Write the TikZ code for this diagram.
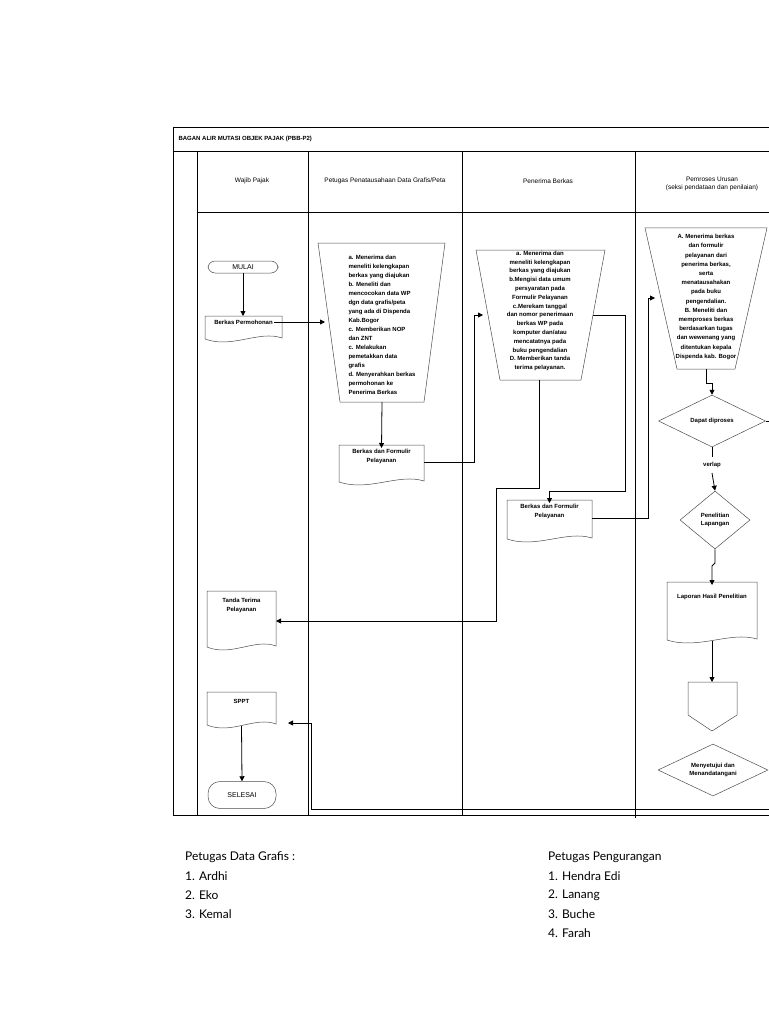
\documentclass[tikz,border=0pt]{standalone}
\usepackage{fontspec}
\setmainfont{Liberation Sans}
\newfontfamily\foot{Lato}
\usetikzlibrary{arrows.meta,calc,shapes.geometric}
\begin{document}
\begin{tikzpicture}[x=1pt,y=-1pt,
  frame/.style={line width=0.8pt},
  shp/.style={draw=black!70, line width=0.5pt},
  txt/.style={font=\fontsize{6}{8.9}\selectfont\bfseries, align=center, inner sep=1pt},
  hdr/.style={font=\fontsize{6.5}{8}\selectfont, align=center},
  arr/.style={line width=0.8pt, -{Triangle[length=5pt,width=5pt]}},
  ln/.style={line width=0.8pt},
  term/.style={shp, rounded corners=7pt, txt, font=\fontsize{7}{8}\selectfont},
  ft/.style={font=\foot\fontsize{12}{14}\selectfont, anchor=west, inner sep=0pt}]
\useasboundingbox (0,0) rectangle (768,1024);
% frame
\draw[frame] (173,127) -- (770,127);
\draw[frame] (173,151) -- (770,151);
\draw[frame] (197,212) -- (770,212);
\draw[frame] (173,815) -- (770,815);
\draw[frame] (173,127) -- (173,815);
\draw[frame] (197,151) -- (197,815);
\draw[frame] (308,151) -- (308,815);
\draw[frame] (462,151) -- (462,815);
\draw[frame] (635,151) -- (635,818);
\node[hdr, anchor=west, font=\fontsize{6}{7}\selectfont\bfseries] (title) at (175,139) {BAGAN ALIR MUTASI OBJEK PAJAK (PBB-P2)};
\node[hdr] (h1) at (252,181) {Wajib Pajak};
\node[hdr] (h2) at (385,181) {Petugas Penatausahaan Data Grafis/Peta};
\node[hdr] (h3) at (548,181) {Penerima Berkas};
\node[hdr] (h4) at (712,184) {Pemroses Urusan\\(seksi pendataan dan penilaian)};
% terminators
\node[term, minimum width=70pt, minimum height=12pt] (mulai) at (243,267) {MULAI};
\node[term, rounded corners=12pt, minimum width=68pt, minimum height=27pt] (selesai) at (242,795) {SELESAI};
% document shapes
\newcommand\docshp[6]{% name, x1, y1, x2, y2, text
  \node[txt, anchor=north] (#1) at ({(#2+#4)/2},{#3+3}) {#6};
  \coordinate (#1-nw) at (#2,#3); \coordinate (#1-ne) at (#4,#3);
  \coordinate (#1-s) at ({(#2+#4)/2},{#5-3});
  \coordinate (#1-e) at (#4,{(#3+#5)/2-3});
  \draw[shp] (#2,#3) -- (#4,#3) -- (#4,{#5-5})
    .. controls ({#4-0.3*(#4-#2)},{#5-13}) and ({#2+0.35*(#4-#2)},{#5+6}) .. (#2,{#5-4}) -- cycle;}
\docshp{berkas}{205}{316}{282}{343}{Berkas Permohonan}
\docshp{doc2}{339}{445}{424}{486}{Berkas dan Formulir\\Pelayanan}
\docshp{doc3}{507}{500}{592}{543}{Berkas dan Formulir\\Pelayanan}
\docshp{tanda}{207}{591}{276}{651}{\\[-2pt]Tanda Terima\\Pelayanan}
\docshp{sppt}{207}{692}{276}{729}{\\[-2pt]SPPT}
\docshp{lap}{667}{582}{757}{644}{\\[3pt]Laporan Hasil Penelitian}
% trapezoids
\draw[shp] (318,243) -- (445,243) -- (424,402) -- (340,402) -- cycle;
\node[txt, align=left, font=\fontsize{6}{9}\selectfont\bfseries] (t1) at (382,325) {a. Menerima dan\\meneliti kelengkapan\\berkas yang diajukan\\b. Meneliti dan\\mencocokan data WP\\dgn data grafis/peta\\yang ada di Dispenda\\Kab.Bogor\\c. Memberikan NOP\\dan ZNT\\c. Melakukan\\pemetakkan data\\grafis\\d. Menyerahkan berkas\\permohonan ke\\Penerima Berkas};
\coordinate (t1-b) at (382,402);
\draw[shp] (476,250) -- (605,250) -- (581,380) -- (500,380) -- cycle;
\node[txt, font=\fontsize{6}{8.8}\selectfont\bfseries] (t2) at (540,311) {a. Menerima dan\\meneliti kelengkapan\\berkas yang diajukan\\b.Mengisi data umum\\persyaratan pada\\Formulir Pelayanan\\c.Merekam tanggal\\dan nomor penerimaan\\berkas WP pada\\komputer dan/atau\\mencatatnya pada\\buku pengendalian\\D. Memberikan tanda\\terima pelayanan.};
\coordinate (t2-b) at (539,380);
\coordinate (t2-l) at (483,315);
\coordinate (t2-r) at (593,315);
\draw[shp] (645,228) -- (767,228) -- (735,369) -- (677,369) -- cycle;
\node[txt, font=\fontsize{6}{9.2}\selectfont\bfseries] (t3) at (706,297) {A. Menerima berkas\\dan formulir\\pelayanan dari\\penerima berkas,\\serta\\menatausahakan\\pada buku\\pengendalian.\\B. Meneliti dan\\memproses berkas\\berdasarkan tugas\\dan wewenang yang\\ditentukan kepala\\Dispenda kab. Bogor};
\coordinate (t3-b) at (706,369);
\coordinate (t3-l) at (655,298);
% diamonds
\node[shp, diamond, aspect=2.05, minimum width=107pt, minimum height=52pt, inner sep=0pt] (d1) at (712,421) {};
\node[txt] at (d1) {Dapat diproses};
\node[shp, diamond, aspect=1.2, minimum width=70pt, minimum height=58pt, inner sep=0pt] (d2) at (715,520) {};
\node[txt] at (d2) {Penelitian\\Lapangan};
\node[shp, diamond, aspect=2.1, minimum width=110pt, minimum height=52pt, inner sep=0pt] (d3) at (713,770) {};
\node[txt] at (d3) {Menyetujui dan\\Menandatangani};
\node[txt] (verlap) at (712,465) {verlap};
% off-page connector
\draw[shp] (688,682) -- (737,682) -- (737,715) -- (712,731) -- (688,715) -- cycle;
\coordinate (off) at (712,682);
% connectors
\draw[arr] (mulai.south) -- (berkas-nw -| mulai.south);
\draw[arr] (berkas.east) -- ++(18,0) |- (325,322);
\draw[arr] (t1-b) -- (doc2.north);
\draw[arr] (doc2-e) -| (474,315) -- (t2-l);
\draw[arr] (t2-b) -- (539,488) -| (496,621) -- (tanda-e |- 0,621);
\draw[arr] (t2-r) -| (625,491) -| (doc3.north);
\draw[arr] (doc3-e) -| (648,298) -- (t3-l);
\draw[arr] (t3-b) -- (706,383) -| (d1.north);
\draw[ln] (d1.east) -- (770,421);
\draw[ln] (d1.south) -- (712,457);
\draw[arr] (712,473) -- (d2.north);
\draw[arr] (d2.south) -- (715,563) -- (712,566) -- (lap.north);
\draw[arr] (lap-s) -- (off);
\draw[arr] (770,809) -| (311,723) -- (288,723);
\draw[arr] (sppt-s) -- (selesai.north);
% footer
\node[ft] (f1) at (185,857) {Petugas Data Grafis :};
\node[ft] (f2) at (185,876) {1. Ardhi};
\node[ft] (f3) at (185,895) {2. Eko};
\node[ft] (f4) at (185,914) {3. Kemal};
\node[ft] (g1) at (548,857) {Petugas Pengurangan};
\node[ft] (g2) at (548,876) {1. Hendra Edi};
\node[ft] (g3) at (548,895) {2. Lanang};
\node[ft] (g4) at (548,914) {3. Buche};
\node[ft] (g5) at (548,933) {4. Farah};
\end{tikzpicture}
\end{document}
